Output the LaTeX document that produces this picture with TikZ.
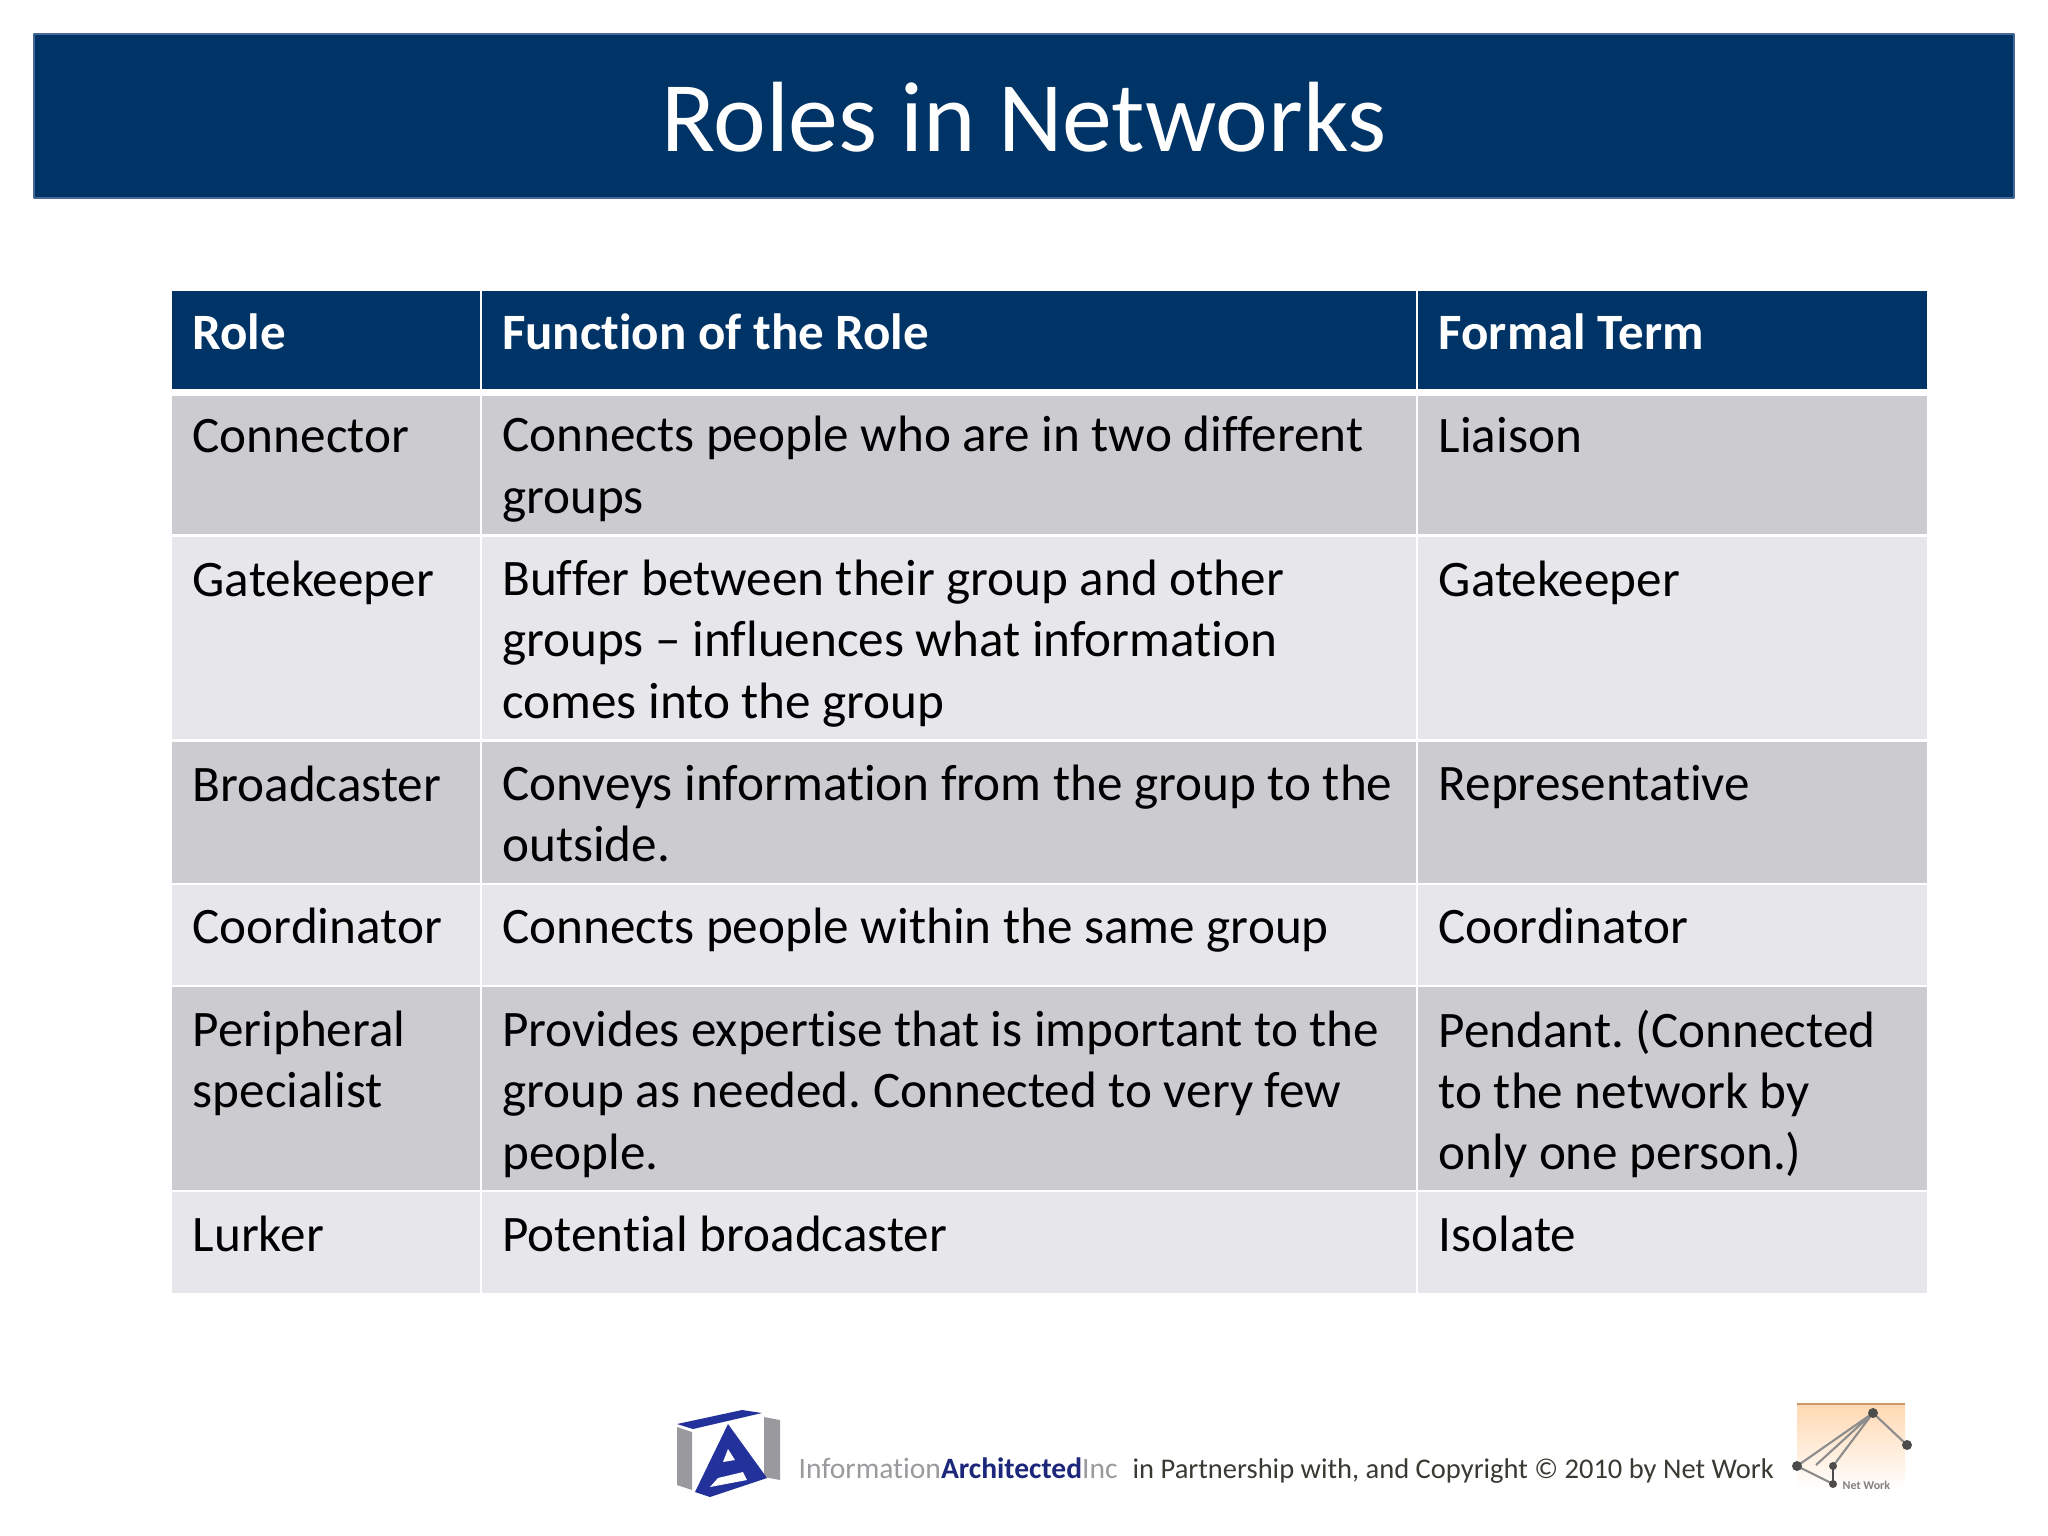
\documentclass[tikz,border=0pt]{standalone}
\usepackage{fontspec}
\setmainfont[Ligatures=NoCommon]{Carlito}
\frenchspacing
\definecolor{navy}{HTML}{003366}
\definecolor{navyedge}{HTML}{47699A}
\definecolor{banddark}{HTML}{CBCBD0}
\definecolor{bandlight}{HTML}{E7E7EB}
\definecolor{logoblue}{HTML}{23319A}
\definecolor{logogray}{HTML}{9A9A9E}
\definecolor{foot}{HTML}{3A3A32}
\tikzset{
  cell/.style={anchor=north west,inner sep=0pt,align=left,font=\fontsize{14.55}{17.47}\selectfont,execute at begin node={\rule{0pt}{10pt}}},
  head/.style={cell,text=white,font=\fontsize{14.5}{17.47}\selectfont\bfseries}
}
\begin{document}
\begin{tikzpicture}[x=0.01cm,y=-0.01cm,line join=round]
    \useasboundingbox (0,0) rectangle (2048,1536);
    \def\xa{192} \def\xb{501.5} \def\xc{1438} % text columns
    % banner
    \draw[navyedge,line width=0.6pt,fill=navy] (34,34) rectangle (2014,198);
    \node[anchor=base,inner sep=0pt,text=white,font=\fontsize{28.4}{34}\selectfont] (title) at (1024,151) {Roles in Networks};
    % table bands
    \foreach \ya/\yb/\col in {291/389/navy,396/534/banddark,537/739/bandlight,742/883/banddark,885/985/bandlight,987/1190/banddark,1192/1293/bandlight}{
        \fill[\col] (172,\ya) rectangle (480,\yb);
        \fill[\col] (482,\ya) rectangle (1415.5,\yb);
        \fill[\col] (1417.5,\ya) rectangle (1927,\yb);
    }
    % header
    \node[head] (roleH) at (\xa,313) {Role};
    \node[head] (funcH) at (\xb,313) {Function of the Role};
    \node[head] (termH) at (\xc,313) {Formal Term};
    % rows
    \node[cell] (roleA) at (\xa,417) {Connector};
    \node[cell] (funcA) at (\xb,415.5) {Connects people who are in two different\\groups};
    \node[cell] (termA) at (\xc,417) {Liaison};
    \node[cell] (roleB) at (\xa,560) {Gatekeeper};
    \node[cell] (funcB) at (\xb,559) {Buffer between their group and other\\groups – influences what information\\comes into the group};
    \node[cell] (termB) at (\xc,560) {Gatekeeper};
    \node[cell] (roleC) at (\xa,765) {Broadcaster};
    \node[cell] (funcC) at (\xb,764) {Conveys information from the group to the\\outside.};
    \node[cell] (termC) at (\xc,765) {Representative};
    \node[cell] (roleD) at (\xa,907) {Coordinator};
    \node[cell] (funcD) at (\xb,907) {Connects people within the same group};
    \node[cell] (termD) at (\xc,907) {Coordinator};
    \node[cell] (roleE) at (\xa,1010) {Peripheral\\specialist};
    \node[cell] (funcE) at (\xb,1010) {Provides expertise that is important to the\\group as needed. Connected to very few\\people.};
    \node[cell] (termE) at (\xc,1009) {Pendant. (Connected\\to the network by\\only one person.)};
    \node[cell] (roleF) at (\xa,1215) {Lurker};
    \node[cell] (funcF) at (\xb,1215) {Potential broadcaster};
    \node[cell] (termF) at (\xc,1215) {Isolate};
    % left logo
    \fill[logogray] (677,1427) -- (692,1432) -- (692,1490) -- (677,1485) -- cycle;
    \fill[logogray] (764,1417) -- (780,1420) -- (780,1480) -- (764,1477) -- cycle;
    \fill[logoblue] (677,1424) -- (742,1410) -- (762,1413) -- (693,1429) -- cycle;
    \fill[logoblue] (728,1424) -- (695,1492) -- (710,1497) -- (767,1478) -- cycle;
    \fill[white] (728,1449) -- (723,1462) -- (735,1460) -- cycle;
    \fill[white] (718,1478) -- (710,1487) -- (747,1480) -- (743,1472) -- cycle;
    \node[anchor=base west,inner sep=0pt,font=\fontsize{8.4}{10}\selectfont] (logotext) at (798,1478)
        {\textcolor{logogray}{Information}\textcolor{logoblue!80!black}{\bfseries Architected}\textcolor{logogray}{Inc}};
    % footer
    \node[anchor=base west,inner sep=0pt,text=foot,font=\fontsize{8.11}{10}\selectfont] (foot) at (1132,1478)
        {in Partnership with, and Copyright © 2010 by Net Work};
    % right logo
    \shade[top color=orange!30,middle color=green!8!yellow!10,bottom color=white] (1797,1404) rectangle (1905,1490);
    \draw[brown!80,line width=0.5pt] (1797,1404) -- (1905,1404);
    \coordinate (nTop) at (1873,1413);
    \coordinate (nRight) at (1907,1445);
    \coordinate (nLeft) at (1797,1466);
    \coordinate (nMid) at (1833,1466);
    \coordinate (nLow) at (1833,1484);
    \coordinate (nIn) at (1816,1465);
    \draw[black!45,line width=0.6pt] (nTop) -- (nRight) (nTop) -- (nLeft) (nTop) -- (nMid) (nTop) -- (nIn) (nLeft) -- (nLow);
    \draw[black!70,line width=0.6pt] (nMid) -- (nLow);
    \fill[black!70] (nTop) circle (5) (nRight) circle (5) (nLeft) circle (5) (nMid) circle (4) (nLow) circle (4);
    \node[anchor=base west,inner sep=0pt,text=black!50,font=\fontsize{3.4}{4}\selectfont\bfseries] (netwrk) at (1842,1489) {Net Work};
\end{tikzpicture}
\end{document}
